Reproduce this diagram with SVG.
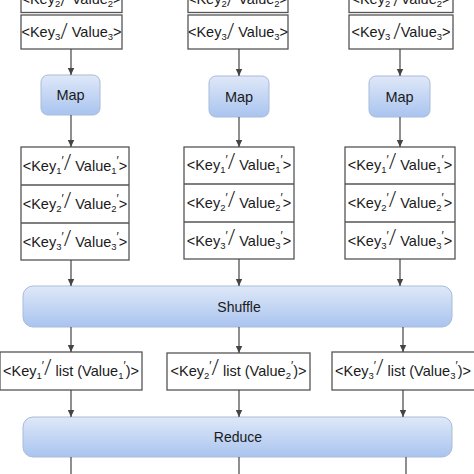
<svg xmlns="http://www.w3.org/2000/svg" width="474" height="474" viewBox="0 0 474 474">
<defs>
<linearGradient id="blue" x1="0" y1="0" x2="0" y2="1">
<stop offset="0" stop-color="#dfe8f8"/>
<stop offset="1" stop-color="#a9c4ef"/>
</linearGradient>
<marker id="ah" markerWidth="8" markerHeight="8" refX="7" refY="4" orient="auto" markerUnits="userSpaceOnUse">
<path d="M0,0.8 L7,4 L0,7.2 Z" fill="#444"/>
</marker>
<style>
.box{fill:#fff;stroke:#555;stroke-width:1.3}
.proc{fill:url(#blue);stroke:#a8bbd9;stroke-width:1}
.t{font-family:"Liberation Sans",Arial,sans-serif;font-size:14.5px;fill:#1a1a1a;text-anchor:middle}
.pt{font-family:"Liberation Sans",Arial,sans-serif;font-size:14px;fill:#1a1a1a;text-anchor:middle}
.s{font-size:9.5px}
.p{font-size:12px}
.sl{font-family:"Open Sans",sans-serif;font-size:22px;font-weight:300}
.c line{stroke:#444;stroke-width:1.2;marker-end:url(#ah)}
.c line.n{marker-end:none}
.rl{stroke:#555;stroke-width:1.3}
</style>
</defs>

<g id="input1">
<rect class="box" x="21" y="-25" width="101" height="37.5"/>
<rect class="box" x="21" y="15" width="101" height="34"/>
<text class="t" x="71.5" y="4">&lt;Key<tspan class="s" dy="3">2</tspan><tspan class="sl" dy="-1">/</tspan><tspan dy="-2"> Value</tspan><tspan class="s" dy="3">2</tspan><tspan dy="-3">&gt;</tspan></text>
<text class="t" x="71.5" y="37">&lt;Key<tspan class="s" dy="3">3</tspan><tspan class="sl" dy="-1">/</tspan><tspan dy="-2"> Value</tspan><tspan class="s" dy="3">3</tspan><tspan dy="-3">&gt;</tspan></text>
</g>
<g id="input2">
<rect class="box" x="188" y="-25" width="100" height="37.5"/>
<rect class="box" x="188" y="15" width="100" height="34"/>
<text class="t" x="238" y="4">&lt;Key<tspan class="s" dy="3">2</tspan><tspan class="sl" dy="-1">/</tspan><tspan dy="-2"> Value</tspan><tspan class="s" dy="3">2</tspan><tspan dy="-3">&gt;</tspan></text>
<text class="t" x="238" y="37">&lt;Key<tspan class="s" dy="3">3</tspan><tspan class="sl" dy="-1">/</tspan><tspan dy="-2"> Value</tspan><tspan class="s" dy="3">3</tspan><tspan dy="-3">&gt;</tspan></text>
</g>
<g id="input3">
<rect class="box" x="349" y="-25" width="104" height="37.5"/>
<rect class="box" x="349" y="15" width="104" height="34"/>
<text class="t" x="401" y="4">&lt;Key<tspan class="s" dy="3">2</tspan><tspan dx="3" class="sl" dy="-1">/</tspan><tspan dy="-2">Value</tspan><tspan class="s" dy="3">2</tspan><tspan dy="-3">&gt;</tspan></text>
<text class="t" x="401" y="37">&lt;Key<tspan class="s" dy="3">3</tspan><tspan dx="3" class="sl" dy="-1">/</tspan><tspan dy="-2">Value</tspan><tspan class="s" dy="3">3</tspan><tspan dy="-3">&gt;</tspan></text>
</g>

<g id="map1">
<rect class="proc" x="41" y="75" width="59" height="40" rx="7"/>
<text class="t" x="70.5" y="100">Map</text>
</g>
<g id="map2">
<rect class="proc" x="209" y="76" width="60" height="41" rx="7"/>
<text class="t" x="239" y="102">Map</text>
</g>
<g id="map3">
<rect class="proc" x="369" y="76" width="61" height="41" rx="7"/>
<text class="t" x="399.5" y="102">Map</text>
</g>

<g id="inter1">
<rect class="box" x="21" y="147" width="108" height="113"/>
<line class="rl" x1="21" y1="185" x2="129" y2="185"/>
<line class="rl" x1="21" y1="223" x2="129" y2="223"/>
<text class="t" x="75" y="171">&lt;Key<tspan class="s" dy="3">1</tspan><tspan class="p" dy="-9">′</tspan><tspan class="sl" dy="5">/</tspan><tspan dy="1"> Value</tspan><tspan class="s" dy="3">1</tspan><tspan class="p" dy="-9">′</tspan><tspan dy="6">&gt;</tspan></text>
<text class="t" x="75" y="209">&lt;Key<tspan class="s" dy="3">2</tspan><tspan class="p" dy="-9">′</tspan><tspan class="sl" dy="5">/</tspan><tspan dy="1"> Value</tspan><tspan class="s" dy="3">2</tspan><tspan class="p" dy="-9">′</tspan><tspan dy="6">&gt;</tspan></text>
<text class="t" x="75" y="247">&lt;Key<tspan class="s" dy="3">3</tspan><tspan class="p" dy="-9">′</tspan><tspan class="sl" dy="5">/</tspan><tspan dy="1"> Value</tspan><tspan class="s" dy="3">3</tspan><tspan class="p" dy="-9">′</tspan><tspan dy="6">&gt;</tspan></text>
</g>
<g id="inter2">
<rect class="box" x="184" y="147" width="110" height="112"/>
<line class="rl" x1="184" y1="184" x2="294" y2="184"/>
<line class="rl" x1="184" y1="222" x2="294" y2="222"/>
<text class="t" x="239" y="170">&lt;Key<tspan class="s" dy="3">1</tspan><tspan class="p" dy="-9">′</tspan><tspan class="sl" dy="5">/</tspan><tspan dy="1"> Value</tspan><tspan class="s" dy="3">1</tspan><tspan class="p" dy="-9">′</tspan><tspan dy="6">&gt;</tspan></text>
<text class="t" x="239" y="208">&lt;Key<tspan class="s" dy="3">2</tspan><tspan class="p" dy="-9">′</tspan><tspan class="sl" dy="5">/</tspan><tspan dy="1"> Value</tspan><tspan class="s" dy="3">2</tspan><tspan class="p" dy="-9">′</tspan><tspan dy="6">&gt;</tspan></text>
<text class="t" x="239" y="246">&lt;Key<tspan class="s" dy="3">3</tspan><tspan class="p" dy="-9">′</tspan><tspan class="sl" dy="5">/</tspan><tspan dy="1"> Value</tspan><tspan class="s" dy="3">3</tspan><tspan class="p" dy="-9">′</tspan><tspan dy="6">&gt;</tspan></text>
</g>
<g id="inter3">
<rect class="box" x="345" y="147" width="110" height="112"/>
<line class="rl" x1="345" y1="184" x2="455" y2="184"/>
<line class="rl" x1="345" y1="222" x2="455" y2="222"/>
<text class="t" x="400" y="170">&lt;Key<tspan class="s" dy="3">1</tspan><tspan class="p" dy="-9">′</tspan><tspan class="sl" dy="5">/</tspan><tspan dy="1"> Value</tspan><tspan class="s" dy="3">1</tspan><tspan class="p" dy="-9">′</tspan><tspan dy="6">&gt;</tspan></text>
<text class="t" x="400" y="208">&lt;Key<tspan class="s" dy="3">2</tspan><tspan class="p" dy="-9">′</tspan><tspan class="sl" dy="5">/</tspan><tspan dy="1"> Value</tspan><tspan class="s" dy="3">2</tspan><tspan class="p" dy="-9">′</tspan><tspan dy="6">&gt;</tspan></text>
<text class="t" x="400" y="246">&lt;Key<tspan class="s" dy="3">3</tspan><tspan class="p" dy="-9">′</tspan><tspan class="sl" dy="5">/</tspan><tspan dy="1"> Value</tspan><tspan class="s" dy="3">3</tspan><tspan class="p" dy="-9">′</tspan><tspan dy="6">&gt;</tspan></text>
</g>

<g id="shuffle">
<rect class="proc" x="23" y="286" width="429" height="41" rx="10"/>
<text class="pt" x="239" y="312">Shuffle</text>
</g>

<g id="list1">
<rect class="box" x="0" y="352" width="142" height="38"/>
<text class="t" x="71" y="376">&lt;Key<tspan class="s" dy="3">1</tspan><tspan class="p" dy="-9">′</tspan><tspan class="sl" dy="5">/</tspan><tspan dy="1"> list (Value</tspan><tspan class="s" dy="3">1</tspan><tspan class="p" dy="-9">′</tspan><tspan dy="6">)&gt;</tspan></text>
</g>
<g id="list2">
<rect class="box" x="167" y="353" width="143" height="37"/>
<text class="t" x="238.5" y="376">&lt;Key<tspan class="s" dy="3">2</tspan><tspan class="p" dy="-9">′</tspan><tspan class="sl" dy="5">/</tspan><tspan dy="1"> list (Value</tspan><tspan class="s" dy="3">2</tspan><tspan class="p" dy="-9">′</tspan><tspan dy="6">)&gt;</tspan></text>
</g>
<g id="list3">
<rect class="box" x="332" y="352" width="145" height="38"/>
<text class="t" x="403" y="376">&lt;Key<tspan class="s" dy="3">3</tspan><tspan class="p" dy="-9">′</tspan><tspan class="sl" dy="5">/</tspan><tspan dy="1"> list (Value</tspan><tspan class="s" dy="3">3</tspan><tspan class="p" dy="-9">′</tspan><tspan dy="6">)&gt;</tspan></text>
</g>

<g id="reduce">
<rect class="proc" x="23" y="417" width="429" height="40" rx="10"/>
<text class="pt" x="238" y="442">Reduce</text>
</g>

<g id="connectors" class="c">
<line x1="71" y1="49" x2="71" y2="75"/>
<line x1="239" y1="49" x2="239" y2="76"/>
<line x1="400" y1="49" x2="400" y2="76"/>
<line x1="71" y1="115" x2="71" y2="147"/>
<line x1="239" y1="117" x2="239" y2="147"/>
<line x1="400" y1="117" x2="400" y2="147"/>
<line x1="71" y1="260" x2="71" y2="286"/>
<line x1="239" y1="259" x2="239" y2="286"/>
<line x1="400" y1="259" x2="400" y2="286"/>
<line x1="71" y1="327" x2="71" y2="352"/>
<line x1="239" y1="327" x2="239" y2="353"/>
<line x1="403" y1="327" x2="403" y2="352"/>
<line x1="71" y1="390" x2="71" y2="417"/>
<line x1="239" y1="390" x2="239" y2="417"/>
<line x1="403" y1="390" x2="403" y2="417"/>
<line class="n" x1="71" y1="457" x2="71" y2="474"/>
<line class="n" x1="239" y1="457" x2="239" y2="474"/>
<line class="n" x1="406" y1="457" x2="406" y2="474"/>
</g>
</svg>
